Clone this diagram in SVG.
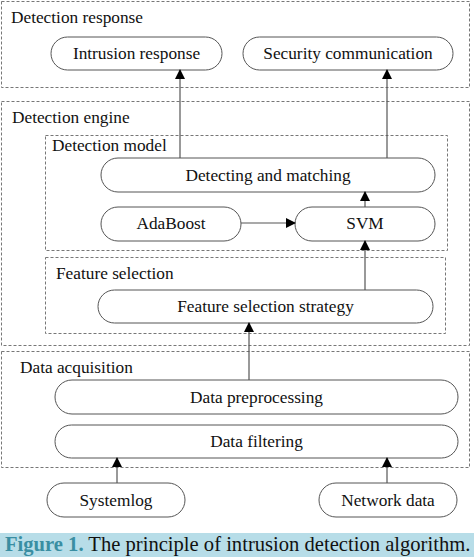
<svg xmlns="http://www.w3.org/2000/svg" width="474" height="557" viewBox="0 0 474 557">
<style>
.grp{fill:none;stroke:#777;stroke-width:1;stroke-dasharray:3,2}
.pill{fill:#fff;stroke:#555;stroke-width:1}
text{font-family:'Liberation Serif',serif;font-size:17.3px;fill:#111}
.c{text-anchor:middle}
.ln{stroke:#555;stroke-width:1.2;fill:none;marker-end:url(#ah)}
</style>
<defs>
<marker id="ah" markerWidth="10" markerHeight="10" refX="9" refY="5" orient="auto" markerUnits="userSpaceOnUse">
<path d="M0,0 L10,5 L0,10 z" fill="#000"/>
</marker>
</defs>
<rect width="474" height="557" fill="#fff"/>
<g id="detection-response">
<rect class="grp" x="1.5" y="1.5" width="468" height="86"/>
<text x="11" y="23">Detection response</text>
</g>
<g id="detection-engine">
<rect class="grp" x="1.5" y="101.5" width="468" height="244"/>
<text x="12" y="123">Detection engine</text>
</g>
<g id="detection-model">
<rect class="grp" x="45.5" y="135.5" width="402" height="115"/>
<text x="52" y="151">Detection model</text>
</g>
<g id="feature-selection">
<rect class="grp" x="45.5" y="257.5" width="400" height="76"/>
<text x="56" y="279">Feature selection</text>
</g>
<g id="data-acquisition">
<rect class="grp" x="1.5" y="351.5" width="468" height="116"/>
<text x="20" y="373">Data acquisition</text>
</g>
<g id="intrusion-response">
<rect class="pill" x="51" y="37" width="171" height="33" rx="16.5"/>
<text class="c" x="136.5" y="59">Intrusion response</text>
</g>
<g id="security-communication">
<rect class="pill" x="243" y="37" width="210" height="33" rx="16.5"/>
<text class="c" x="348" y="59">Security communication</text>
</g>
<g id="detecting-matching">
<rect class="pill" x="101" y="158" width="334" height="34" rx="17"/>
<text class="c" x="268" y="181">Detecting and matching</text>
</g>
<g id="adaboost">
<rect class="pill" x="101" y="207" width="140" height="34" rx="17"/>
<text class="c" x="171" y="229">AdaBoost</text>
</g>
<g id="svm">
<rect class="pill" x="295" y="207" width="140" height="34" rx="17"/>
<text class="c" x="365" y="229">SVM</text>
</g>
<g id="feature-selection-strategy">
<rect class="pill" x="98" y="290" width="335" height="33" rx="16.5"/>
<text class="c" x="265.5" y="312">Feature selection strategy</text>
</g>
<g id="data-preprocessing">
<rect class="pill" x="55" y="380" width="403" height="34" rx="17"/>
<text class="c" x="256.5" y="403">Data preprocessing</text>
</g>
<g id="data-filtering">
<rect class="pill" x="55" y="425" width="403" height="33" rx="16.5"/>
<text class="c" x="256.5" y="447">Data filtering</text>
</g>
<g id="systemlog">
<rect class="pill" x="47" y="483" width="138" height="34" rx="17"/>
<text class="c" x="116" y="506">Systemlog</text>
</g>
<g id="network-data">
<rect class="pill" x="319" y="483" width="138" height="34" rx="17"/>
<text class="c" x="388" y="506">Network data</text>
</g>
<g id="connectors">
<line class="ln" x1="180" y1="158" x2="180" y2="70"/>
<line class="ln" x1="387" y1="158" x2="387" y2="70"/>
<line class="ln" x1="241" y1="223" x2="295" y2="223"/>
<line class="ln" x1="365" y1="207" x2="365" y2="192"/>
<line class="ln" x1="365" y1="290" x2="365" y2="241"/>
<line class="ln" x1="249" y1="380" x2="249" y2="323"/>
<line class="ln" x1="117" y1="483" x2="117" y2="458"/>
<line class="ln" x1="387" y1="483" x2="387" y2="458"/>
</g>
<g id="caption">
<rect x="0" y="533" width="474" height="24" fill="#b7dde8"/>
<text x="5" y="551" style="font-size:20.6px"><tspan font-weight="bold" style="fill:#3a8ea2">Figure 1.</tspan> The principle of intrusion detection algorithm.</text>
</g>
</svg>
